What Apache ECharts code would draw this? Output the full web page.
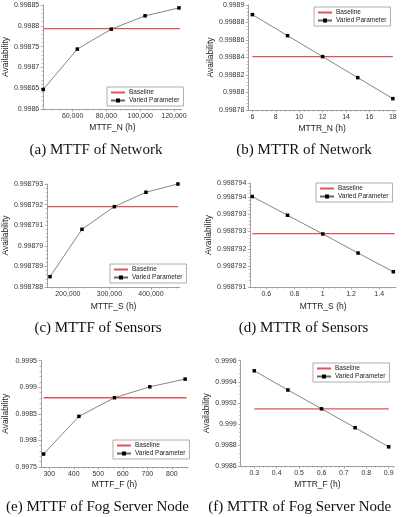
<!DOCTYPE html>
<html><head><meta charset="utf-8">
<script src="https://cdn.jsdelivr.net/npm/echarts@6/dist/echarts.min.js"></script>
<style>html,body{margin:0;padding:0;background:#fff}#c{width:402px;height:517px}</style>
</head><body><div id="c"></div>
<script>
// ---------- DATA ----------
// (a) MTTF of Network
const aX = [42600, 62800, 82900, 102900, 123000];
const aY = [0.998647, 0.998744, 0.998792, 0.998824, 0.998843];
const aBase = 0.998793;
const aBaseX = [42600, 123500];
const aXTicks = [60000, 80000, 100000, 120000];
const aYTicks = [0.9986, 0.99865, 0.9987, 0.99875, 0.9988, 0.99885];
const aXRange = [42600, 124600];
const aYRange = [0.9986, 0.99885];

// (b) MTTR of Network
const bX = [6, 9, 12, 15, 18];
const bY = [0.998889, 0.998865, 0.998841, 0.998817, 0.998793];
const bBase = 0.998841;
const bBaseX = [6, 18];
const bXTicks = [6, 8, 10, 12, 14, 16, 18];
const bYTicks = [0.99878, 0.9988, 0.99882, 0.99884, 0.99886, 0.99888, 0.9989];
const bXRange = [5.65, 18.27];
const bYRange = [0.99878, 0.9989];

// (c) MTTF of Sensors
const cX = [157000, 234000, 312000, 388000, 465000];
const cY = [0.9987885, 0.9987908, 0.9987919, 0.9987926, 0.998793];
const cBase = 0.9987919;
const cBaseX = [150500, 466000];
const cXTicks = [200000, 300000, 400000];
const cYTicks = [0.998788, 0.998789, 0.99879, 0.998791, 0.998792, 0.998793];
const cXRange = [150000, 470000];
const cYRange = [0.998788, 0.998793];

// (d) MTTR of Sensors
const dX = [0.5, 0.75, 1, 1.25, 1.5];
const dY = [0.99879401, 0.99879347, 0.99879293, 0.99879238, 0.99879184];
const dBase = 0.99879294;
const dBaseX = [0.5, 1.51];
const dXTicks = [0.6, 0.8, 1, 1.2, 1.4];
const dYTicks = [0.9987914, 0.998792, 0.9987925, 0.998793, 0.9987935, 0.998794, 0.9987944];
const dYTickLabels = ['0.998791', '0.998792', '0.998792', '0.998793', '0.998793', '0.998794', '0.998794'];
const dXRange = [0.486, 1.519];
const dYRange = [0.9987914, 0.9987944];

// (e) MTTF of Fog Server Node
const eX = [277, 421, 566, 710, 854];
const eY = [0.997744, 0.998453, 0.998803, 0.999009, 0.999154];
const eBase = 0.998803;
const eBaseX = [277, 860];
const eXTicks = [300, 400, 500, 600, 700, 800];
const eYTicks = [0.9975, 0.998, 0.9985, 0.999, 0.9995];
const eXRange = [266.4, 865.6];
const eYRange = [0.9975, 0.9995];

// (f) MTTR of Fog Server Node
const fX = [0.3, 0.45, 0.6, 0.75, 0.9];
const fY = [0.999504, 0.999322, 0.999143, 0.998964, 0.998782];
const fBase = 0.999143;
const fBaseX = [0.3, 0.9];
const fXTicks = [0.3, 0.4, 0.5, 0.6, 0.7, 0.8, 0.9];
const fYTicks = [0.9986, 0.9988, 0.999, 0.9992, 0.9994, 0.9996];
const fXRange = [0.2393, 0.9237];
const fYRange = [0.9986, 0.9996];

const xNames = ['MTTF_N (h)', 'MTTR_N (h)', 'MTTF_S (h)', 'MTTR_S (h)', 'MTTF_F (h)', 'MTTR_F (h)'];
const captions = ['(a) MTTF of Network', '(b) MTTR of Network', '(c) MTTF of Sensors',
                  '(d) MTTR of Sensors', '(e) MTTF of Fog Server Node', '(f) MTTR of Fog Server Node'];
const yName = 'Availability';
const legendNames = ['Baseline', 'Varied Parameter'];

// ---------- LAYOUT ----------
const SANS = 'Liberation Sans, Arial, sans-serif';
const SERIF = 'Liberation Serif, Times New Roman, serif';
const layout = [
  {grid:[39, 5, 142.7, 104],    split:[4,5], yGap:29.5, xGap:14.5, legend:[107, 87],  cap:[96, 150]},
  {grid:[248.3, 5, 147.7, 105], split:[6,6], yGap:31,   xGap:14,   legend:[314, 7],   cap:[304, 150]},
  {grid:[42.7, 184, 137.3, 103],split:[3,5], yGap:34,   xGap:15,   legend:[110, 264], cap:[98, 328]},
  {grid:[250.3, 183, 145.7, 104],split:[5,6],yGap:33,   xGap:15,   legend:[316, 183], cap:[303.5, 328]},
  {grid:[40, 360.7, 148, 106.3],split:[6,4], yGap:31,   xGap:13.5, legend:[113, 440], cap:[97.5, 507]},
  {grid:[240.7, 360.7, 153.3, 105.3],split:[7,5],yGap:23.5,xGap:14.5,legend:[313, 363], cap:[299.7, 507]}
];

const comma = v => Math.round(v).toString().replace(/\B(?=(\d{3})+(?!\d))/g, ',');
const plain = v => String(parseFloat(v.toFixed(8)));
const panels = [
  {x:aX, y:aY, base:aBase, baseX:aBaseX, xt:aXTicks, yt:aYTicks, xr:aXRange, yr:aYRange, xf:comma, yf:plain},
  {x:bX, y:bY, base:bBase, baseX:bBaseX, xt:bXTicks, yt:bYTicks, xr:bXRange, yr:bYRange, xf:plain, yf:plain},
  {x:cX, y:cY, base:cBase, baseX:cBaseX, xt:cXTicks, yt:cYTicks, xr:cXRange, yr:cYRange, xf:comma, yf:plain},
  {x:dX, y:dY, base:dBase, baseX:dBaseX, xt:dXTicks, yt:dYTicks, xr:dXRange, yr:dYRange, xf:plain,
     yf:v => { let k = 0, best = Infinity; dYTicks.forEach((t,i)=>{ const d=Math.abs(t-v); if(d<best){best=d;k=i;} }); return dYTickLabels[k]; }},
  {x:eX, y:eY, base:eBase, baseX:eBaseX, xt:eXTicks, yt:eYTicks, xr:eXRange, yr:eYRange, xf:plain, yf:plain},
  {x:fX, y:fY, base:fBase, baseX:fBaseX, xt:fXTicks, yt:fYTicks, xr:fXRange, yr:fYRange, xf:plain, yf:plain}
];

const AXIS_COLOR = '#8a8a8a';
const LABEL_COLOR = '#333';
const RED = '#e0525c';

const option = {animation:false, backgroundColor:'#fff', grid:[], xAxis:[], yAxis:[], series:[], legend:[], graphic:[]};

panels.forEach((p, i) => {
  const L = layout[i];
  option.grid.push({left:L.grid[0], top:L.grid[1], width:L.grid[2], height:L.grid[3], containLabel:false});
  const common = {
    type:'value', gridIndex:i, nameLocation:'middle',
    nameTextStyle:{fontSize:8.5, color:'#222', fontFamily:SANS},
    axisLine:{show:true, lineStyle:{color:AXIS_COLOR, width:0.8}},
    axisTick:{show:true, length:2.5, lineStyle:{color:AXIS_COLOR, width:0.7}},
    minorTick:{show:true, splitNumber:5, length:1.5, lineStyle:{color:AXIS_COLOR, width:0.6}},
    splitLine:{show:false}
  };
  option.xAxis.push(Object.assign({}, common, {
    min:p.xr[0], max:p.xr[1], splitNumber:L.split[0], name:xNames[i], nameGap:L.xGap,
    axisTick:Object.assign({}, common.axisTick, {customValues:p.xt}),
    axisLabel:{customValues:p.xt, formatter:p.xf, fontSize:7, color:LABEL_COLOR, fontFamily:SANS, margin:4}
  }));
  option.yAxis.push(Object.assign({}, common, {
    min:p.yr[0], max:p.yr[1], splitNumber:L.split[1], name:yName, nameGap:L.yGap,
    axisTick:Object.assign({}, common.axisTick, {customValues:p.yt}),
    axisLabel:{customValues:p.yt, formatter:p.yf, fontSize:7, color:LABEL_COLOR, fontFamily:SANS, margin:4}
  }));
  option.series.push({
    name:legendNames[0], type:'line', xAxisIndex:i, yAxisIndex:i,
    data:p.baseX.map(x => [x, p.base]), symbol:'none', silent:true,
    lineStyle:{color:RED, width:1.3}, itemStyle:{color:RED}, z:2
  });
  option.series.push({
    name:legendNames[1], type:'line', xAxisIndex:i, yAxisIndex:i,
    data:p.x.map((x, j) => [x, p.y[j]]), symbol:'rect', symbolSize:3.5, silent:true,
    lineStyle:{color:'#666', width:0.8}, itemStyle:{color:'#000'}, z:3
  });
  option.legend.push({
    left:L.legend[0], top:L.legend[1], orient:'vertical',
    data:[{name:legendNames[0], itemStyle:{opacity:0, color:'rgba(0,0,0,0)', borderWidth:0}}, {name:legendNames[1]}],
    itemWidth:14, itemHeight:5, itemGap:1, padding:[2,4,2,3],
    borderColor:'#9a9a9a', borderWidth:0.8, backgroundColor:'#fff', selectedMode:false,
    textStyle:{fontSize:6.5, color:'#222', fontFamily:SANS, padding:[0,0,0,-1]}
  });
  option.graphic.push({
    type:'text', x:L.cap[0], y:L.cap[1], silent:true,
    style:{text:captions[i], fontSize:15, fontFamily:SERIF, fill:'#111', textAlign:'center', textVerticalAlign:'middle'}
  });
});

const chart = echarts.init(document.getElementById('c'), null, {renderer:'canvas'});
chart.setOption(option);
</script></body></html>
